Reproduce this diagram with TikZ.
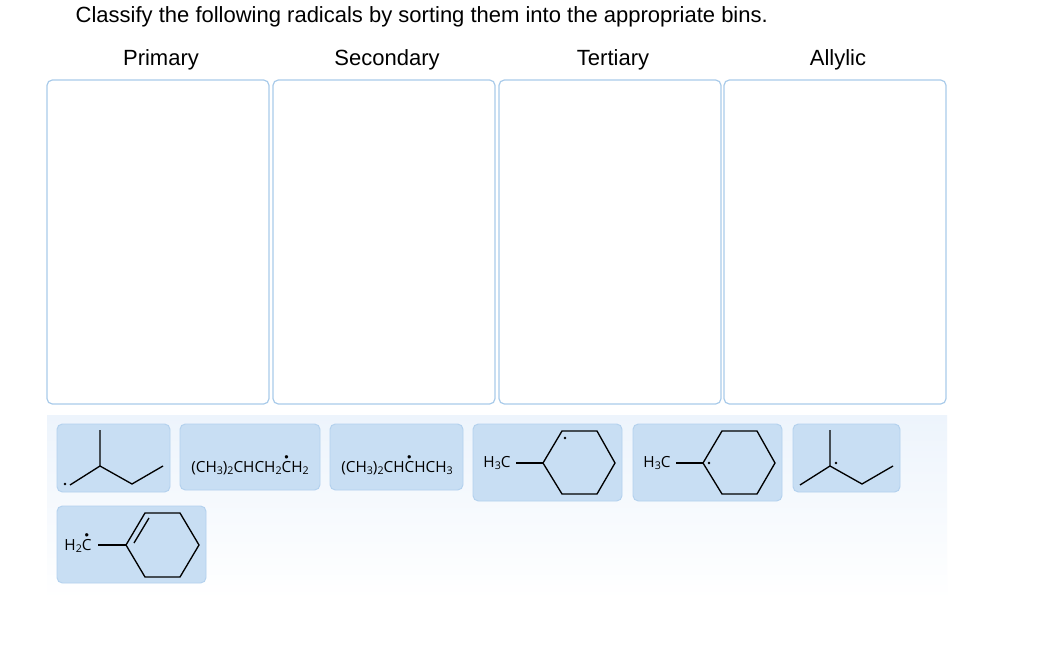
\documentclass[tikz,border=0pt]{standalone}
\usepackage{fontspec}
\setmainfont{Liberation Sans}
\newfontfamily\chem{Open Sans}
\newcommand\radC{\ooalign{C\cr\hidewidth\raisebox{0.85em}{\scalebox{0.55}{$\bullet$}}\hidewidth\cr}}
\newcommand\sub[1]{\raisebox{-0.3ex}{\footnotesize #1}}
\definecolor{binb}{HTML}{A9CBEA}
\definecolor{tilef}{HTML}{C8DEF3}
\definecolor{tileb}{HTML}{B3D1EE}
\definecolor{tray}{HTML}{EDF4FC}
\begin{document}
\begin{tikzpicture}[x=0.75pt,y=-0.75pt,
  bin/.style={draw=binb,line width=0.9pt,rounded corners=4pt,fill=white},
  tile/.style={draw=tileb,line width=0.7pt,fill=tilef,rounded corners=4pt},
  bond/.style={line width=1pt,black,line join=miter},
  lbl/.style={font=\fontsize{16.5}{18}\selectfont},
  chemt/.style={font=\chem\fontsize{11.5}{13}\selectfont,inner sep=0pt},
  rad/.style={fill=black,circle,inner sep=0pt,minimum size=2.2pt}]
\useasboundingbox (0,0) rectangle (1056,648);
\fill[white] (0,0) rectangle (1056,648);
\node[lbl,anchor=west] (title) at (71,17) {Classify the following radicals by sorting them into the appropriate bins.};
\foreach \n/\xa/\t in {p/47/Primary,s/273/Secondary,t/499/Tertiary,a/724/Allylic}{
  \draw[bin] (\xa,80) rectangle ++(222,324);
  \node[lbl] (lab\n) at (\xa+114,60) {\t};
}
\shade[top color=tray,bottom color=white] (47,415) rectangle (947,600);
% tiles
\draw[tile] (57,424) rectangle (170,492);
\draw[tile] (180,424) rectangle (320,490);
\draw[tile] (330,424) rectangle (463,490);
\draw[tile] (473,424) rectangle (622,501);
\draw[tile] (633,424) rectangle (782,501);
\draw[tile] (793,424) rectangle (900,492);
\draw[tile] (57,506) rectangle (206,583);
% tile 1
\node[rad] (d1) at (65,484) {};
\draw[bond] (70,485) -- (100,466) -- (132,484) -- (163,466) (100,466) -- (100,430);
% tile 2,3
\node[chemt] (m2) at (250,468) {(CH\sub{3})\sub{2}CHCH\sub{2}\radC H\sub{2}};
\node[chemt] (m3) at (397,468) {(CH\sub{3})\sub{2}CH\radC HCH\sub{3}};
% tile 4
\node[chemt] (h4) at (497,463) {H\sub{3}C};
\draw[bond] (516,463) -- (543,463);
\draw[bond] (543,463) -- (562,431) -- (597,431) -- (615,463) -- (597,494) -- (562,494) -- cycle;
\node[rad] (d4) at (565,438) {};
% tile 5
\node[chemt] (h5) at (657,463) {H\sub{3}C};
\draw[bond] (676,463) -- (703,463);
\draw[bond] (703,463) -- (722,431) -- (757,431) -- (775,463) -- (757,494) -- (722,494) -- cycle;
\node[rad] (d5) at (709,463) {};
% tile 6
\draw[bond] (800,485) -- (830,466) -- (862,484) -- (893,466) (830,466) -- (830,430);
\node[rad] (d6) at (836,463) {};
% tile 7
\node[chemt] (h7) at (78,546) {H\sub{2}\radC};
\draw[bond] (98,545) -- (126,545);
\draw[bond] (126,545) -- (145,513) -- (180,513) -- (199,545) -- (180,577) -- (145,577) -- cycle;
\draw[bond] (134,543) -- (149,518);
\end{tikzpicture}
\end{document}
